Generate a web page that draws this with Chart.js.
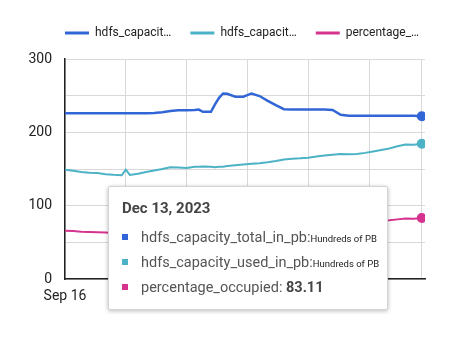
<!DOCTYPE html>
<html><head><meta charset="utf-8">
<script src="https://cdn.jsdelivr.net/npm/chart.js@4.4.1/dist/chart.umd.min.js"></script>
<style>
html,body{margin:0;padding:0;background:#fff;}
#wrap{position:relative;width:474px;height:355px;overflow:hidden;}
#c{position:absolute;left:0;top:0;}
#tip{position:absolute;left:108px;top:186px;width:280px;height:124px;box-sizing:border-box;background:#fff;border:1px solid #d4d4d4;border-radius:2px;box-shadow:0 1px 4px rgba(0,0,0,0.28);font-family:Roboto,sans-serif;padding:12px 0 0 13px;display:none;}
#tip .t{font-weight:700;font-size:15px;line-height:18px;color:#444;margin-bottom:8px;}
#tip .r{height:25px;line-height:25px;white-space:nowrap;color:#555;font-size:14.5px;}
#tip .sq{display:inline-block;width:6px;height:6px;margin-right:13px;vertical-align:middle;position:relative;top:-1px;}
#tip .u{font-size:9.5px;color:#222;}
#tip .v{font-weight:700;color:#444;}
</style></head><body>
<div id="wrap"><canvas id="c" width="474" height="355"></canvas><div id="tip"></div></div>
<script>
// ---- data ----
const startDate = [2023, 8, 16]; // Sep 16, 2023 (day 0)
const days = [0,2,4,6,8,10,12,14,15,16,18,20,22,24,26,28,30,32,33,34,36,37,38,39,40,42,44,46,48,50,52,54,56,58,60,62,64,66,68,70,72,74,76,78,80,82,84,86,88];
const totalPb = [226,226,226,226,226,226,226,226,226,226,226,226,226.5,227.5,229,230,230,230.5,231,228,228,238,247,253,252.5,248.5,248.5,253,249.5,243,237,231.5,231,231,231,231,231,230.5,224,222.5,222.5,222.5,222.5,222.5,222.5,222.5,222.5,222.5,222];
const usedPb = [149,147.5,146,145,144.5,143,142,141.5,149,142,143.5,146,148,150,152.5,152,151.5,153,153,153.5,153,152.5,153,153,154,155,156,157,158,159.3,161,163,164,164.5,165.5,167,168.5,169.5,170.5,170,170.5,172,174,176,178,181,183.5,183,184.5];
const pctOccupied = [65.9,65.3,64.6,64.2,63.9,63.3,62.8,62.6,65.9,62.8,63.5,64.6,65.3,65.9,66.6,66.1,65.9,66.4,66.2,67.3,67.1,64.1,61.9,60.5,61.0,62.4,62.8,62.1,63.3,65.6,67.9,70.4,71.0,71.2,71.6,72.3,72.9,73.5,76.1,76.4,76.6,77.3,78.2,79.1,80.0,81.3,82.5,82.2,83.11];
const seriesNames = ['hdfs_capacity_total_in_pb','hdfs_capacity_used_in_pb','percentage_occupied'];
const legendNames = ['hdfs_capacit\u2026','hdfs_capacit\u2026','percentage_\u2026'];
const seriesColors = ['#3266d6','#4cb2c6','#d6338f'];
const tooltipUnits = ['Hundreds of PB','Hundreds of PB',null];
const yTickLabels = {0:'0',100:'100',200:'200',300:'300'};
const xTickDays = [0,15,30,45,60,75,88];
const xTickLabels = ['Sep 16','','','','','',''];
const monthNames = ['Jan','Feb','Mar','Apr','May','Jun','Jul','Aug','Sep','Oct','Nov','Dec'];

function dayToDate(d){ return new Date(startDate[0], startDate[1], startDate[2] + d); }
function fmtTitle(d){ const dt = dayToDate(d); return monthNames[dt.getMonth()] + ' ' + dt.getDate() + ', ' + dt.getFullYear(); }
function toXY(vals){ return days.map((d,i)=>({x:d,y:vals[i]})); }
const lastIdx = days.length - 1;
const seriesValues = [totalPb, usedPb, pctOccupied];

const datasets = seriesValues.map((vals,i)=>({
  label: seriesNames[i],
  data: toXY(vals),
  borderColor: seriesColors[i],
  backgroundColor: seriesColors[i],
  borderWidth: i===0 ? 2.5 : 2,
  tension: 0,
  pointRadius: ctx => ctx.dataIndex === lastIdx ? 5 : 0,
  pointBorderWidth: 0,
  pointBackgroundColor: seriesColors[i],
  pointHoverRadius: 5
}));

const legendPlace = {
  id: 'legendPlace',
  beforeInit(chart){
    const orig = chart.legend.fit;
    chart.legend.fit = function(){ orig.call(this); this.height = 51; };
  },
  afterLayout(chart){
    chart.legend.left = 46;
    chart.legend.right = 474;
    chart.legend.width = 428;
  }
};

function externalTip(context){
  const tip = context.tooltip;
  const el = document.getElementById('tip');
  if (!tip || tip.opacity === 0 || !tip.dataPoints) { return; }
  let html = '<div class="t">' + (tip.title || []).join(' ') + '</div>';
  tip.dataPoints.forEach(dp => {
    const i = dp.datasetIndex;
    const unit = tooltipUnits[i];
    html += '<div class="r"><span class="sq" style="background:' + seriesColors[i] + '"></span>' +
      seriesNames[i] + ':' + (unit ? '<span class="u">' + unit + '</span>' : ' <span class="v">' + dp.parsed.y.toFixed(2) + '</span>') + '</div>';
  });
  el.innerHTML = html;
  el.style.display = 'block';
}

const chart = new Chart(document.getElementById('c'), {
  type: 'line',
  data: { datasets },
  plugins: [legendPlace],
  options: {
    responsive: false,
    animation: false,
    events: [],
    devicePixelRatio: 1,
    layout: { padding: { left: 0, right: 49, top: 8, bottom: 0 } },
    interaction: { mode: 'index', intersect: false },
    plugins: {
      legend: {
        position: 'top',
        align: 'start',
        labels: {
          boxWidth: 24, boxHeight: 3, padding: 19,
          color: '#222',
          font: { family: 'Roboto', size: 12 },
          generateLabels: (ch) => ch.data.datasets.map((ds,i)=>({
            text: legendNames[i], fillStyle: seriesColors[i], strokeStyle: seriesColors[i],
            lineWidth: 0, hidden: false, datasetIndex: i, fontColor: '#222'
          }))
        }
      },
      tooltip: {
        enabled: false,
        mode: 'index',
        intersect: false,
        external: externalTip,
        callbacks: { title: (items) => fmtTitle(items[0].parsed.x) }
      }
    },
    scales: {
      x: {
        type: 'linear',
        min: 0, max: 88.8,
        afterBuildTicks: (s) => { s.ticks = xTickDays.map(v=>({value:v})); },
        afterFit: (s) => { s.height = 76; },
        grid: { color: '#d9d9d9', lineWidth: 1, drawTicks: false },
        border: { color: '#222', width: 1.5 },
        ticks: {
          autoSkip: false, maxRotation: 0, padding: 9,
          color: '#222', font: { family: 'Roboto', size: 14 },
          callback: (v) => { const k = xTickDays.indexOf(v); return k >= 0 ? xTickLabels[k] : ''; }
        }
      },
      y: {
        min: 0, max: 300,
        afterFit: (s) => { s.width = 65; },
        grid: { color: '#d9d9d9', lineWidth: 1, drawTicks: false },
        border: { color: '#222', width: 1.5 },
        ticks: {
          stepSize: 50, padding: 13,
          color: '#222', font: { family: 'Roboto', size: 14 },
          callback: (v) => (v in yTickLabels) ? yTickLabels[v] : ''
        }
      }
    }
  }
});

chart.tooltip.setActiveElements(
  seriesValues.map((_,i)=>({datasetIndex:i, index:lastIdx})),
  { x: chart.scales.x.getPixelForValue(days[lastIdx]), y: chart.scales.y.getPixelForValue(usedPb[lastIdx]) }
);
chart.draw();
</script>
</body></html>
